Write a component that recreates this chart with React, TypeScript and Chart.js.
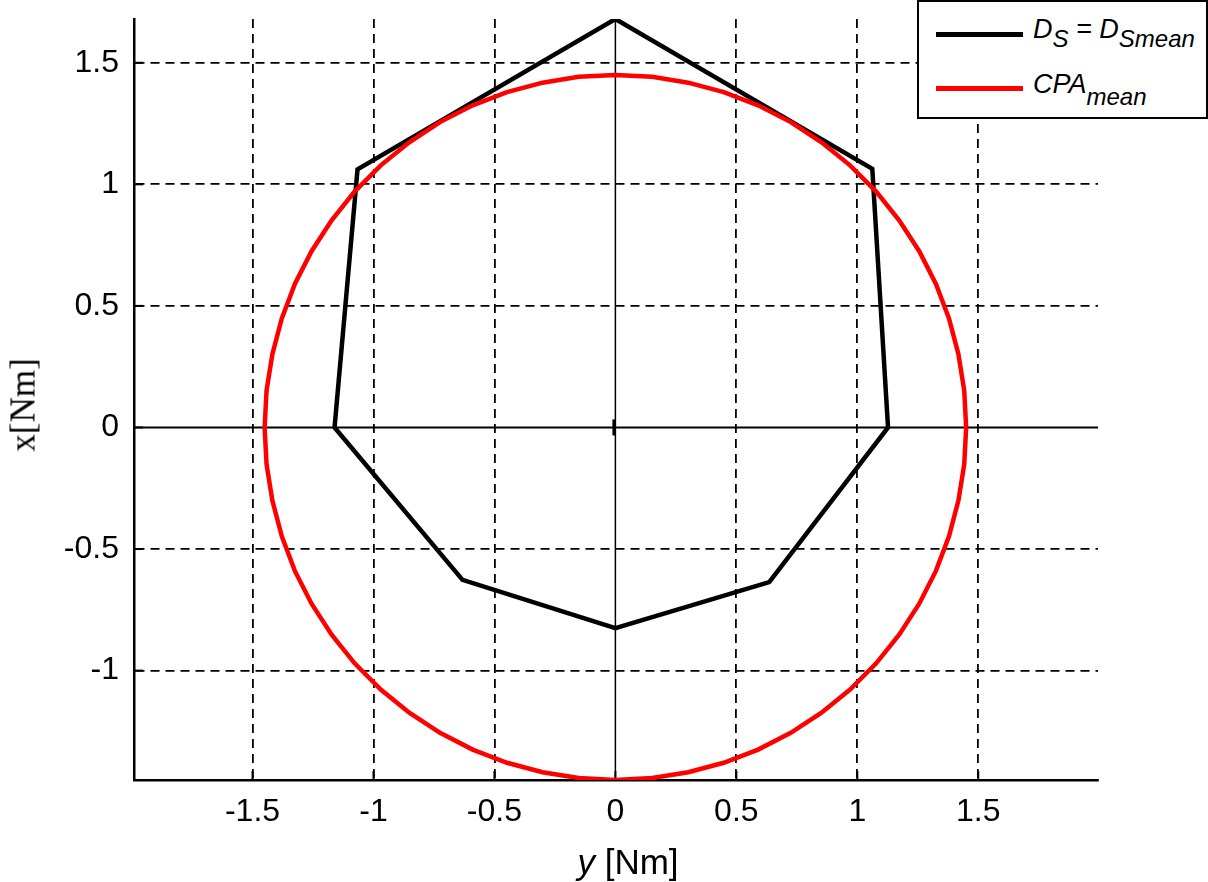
import { useEffect, useRef } from "react";
import { Chart, registerables } from "chart.js";

Chart.register(...registerables);

// D_S = D_Smean polygon (horizontal = y [Nm], vertical = x [Nm])
const polyY = [0, 1.062, 1.127, 0.636, 0, -0.632, -1.161, -1.066, 0];
const polyX = [1.68, 1.064, 0, -0.636, -0.825, -0.627, 0, 1.062, 1.68];

// CPA_mean contour, read round the curve every 6 degrees
const cpaY = [
  1.450, 1.442, 1.418, 1.379, 1.325, 1.256, 1.173, 1.078, 0.970, 0.852, 0.725, 0.590, 0.448, 0.301, 0.152, 0,
  -0.152, -0.301, -0.448, -0.590, -0.725, -0.852, -0.970, -1.078, -1.173, -1.256, -1.325, -1.379, -1.418, -1.442, -1.450,
  -1.442, -1.418, -1.379, -1.325, -1.256, -1.173, -1.078, -0.970, -0.852, -0.725, -0.590, -0.448, -0.301, -0.152, 0,
  0.152, 0.301, 0.448, 0.590, 0.725, 0.852, 0.970, 1.078, 1.173, 1.256, 1.325, 1.379, 1.418, 1.442, 1.450,
];
const cpaX = [
  0, 0.152, 0.301, 0.448, 0.590, 0.725, 0.852, 0.970, 1.078, 1.173, 1.256, 1.325, 1.379, 1.418, 1.442, 1.450,
  1.442, 1.418, 1.379, 1.325, 1.256, 1.173, 1.078, 0.970, 0.852, 0.725, 0.590, 0.448, 0.301, 0.152, 0,
  -0.152, -0.301, -0.448, -0.590, -0.725, -0.852, -0.970, -1.078, -1.173, -1.256, -1.325, -1.379, -1.418, -1.442, -1.450,
  -1.442, -1.418, -1.379, -1.325, -1.256, -1.173, -1.078, -0.970, -0.852, -0.725, -0.590, -0.448, -0.301, -0.152, 0,
];

const yTicks = [-1.5, -1, -0.5, 0, 0.5, 1, 1.5];
const xTicks = [-1, -0.5, 0, 0.5, 1, 1.5];

const FONT = "'Liberation Sans', Arial, Helvetica, sans-serif";

// zero lines, inward tick marks and the origin mark
const axesPlugin = {
  id: "axesExtras",
  beforeDatasetsDraw(chart: any) {
    const { ctx, chartArea, scales } = chart;
    const sx = scales.x;
    const sy = scales.y;
    const x0 = sx.getPixelForValue(0);
    const y0 = sy.getPixelForValue(0);
    ctx.save();
    ctx.strokeStyle = "#000";
    ctx.setLineDash([]);
    ctx.lineWidth = 2;
    ctx.beginPath();
    ctx.moveTo(chartArea.left, y0);
    ctx.lineTo(chartArea.right, y0);
    ctx.stroke();
    ctx.lineWidth = 1.5;
    ctx.beginPath();
    ctx.moveTo(x0, chartArea.top);
    ctx.lineTo(x0, chartArea.bottom);
    ctx.stroke();
    ctx.lineWidth = 2;
    sx.ticks.forEach((t: any) => {
      const px = sx.getPixelForValue(t.value);
      ctx.beginPath();
      ctx.moveTo(px, chartArea.bottom);
      ctx.lineTo(px, chartArea.bottom - 9);
      ctx.stroke();
    });
    sy.ticks.forEach((t: any) => {
      const py = sy.getPixelForValue(t.value);
      ctx.beginPath();
      ctx.moveTo(chartArea.left, py);
      ctx.lineTo(chartArea.left + 9, py);
      ctx.stroke();
    });
    ctx.fillStyle = "#000";
    ctx.fillRect(x0 - 3, y0 - 8, 3.5, 16);
    ctx.restore();
  },
};

const App = () => {
  const canvasRef = useRef<HTMLCanvasElement | null>(null);

  useEffect(() => {
    let chart: Chart | null = null;
    if (canvasRef.current) {
      const ctx = canvasRef.current.getContext("2d");
      if (ctx) {
        chart = new Chart(ctx, {
          type: "scatter",
          data: {
            datasets: [
              {
                label: "CPA mean",
                data: cpaY.map((v, i) => ({ x: v, y: cpaX[i] })),
                showLine: true,
                borderColor: "#ff0000",
                borderWidth: 4.5,
                pointRadius: 0,
                tension: 0,
              },
              {
                label: "DS = DSmean",
                data: polyY.map((v, i) => ({ x: v, y: polyX[i] })),
                showLine: true,
                borderColor: "#000000",
                borderWidth: 4.5,
                pointRadius: 0,
                tension: 0,
                borderJoinStyle: "miter",
              },
            ],
          },
          options: {
            animation: false,
            responsive: true,
            maintainAspectRatio: false,
            layout: {
              padding: { top: 19, right: 110, left: 0, bottom: 0 },
            },
            plugins: {
              legend: { display: false },
              tooltip: { enabled: false },
            },
            scales: {
              x: {
                type: "linear",
                min: -1.99,
                max: 1.995,
                afterBuildTicks: (scale: any) => {
                  scale.ticks = yTicks.map((v) => ({ value: v }));
                },
                afterFit: (scale: any) => {
                  scale.height = 102;
                  scale.paddingLeft = 0;
                  scale.paddingRight = 0;
                },
                ticks: {
                  callback: (v: any) => String(v),
                  font: { family: FONT, size: 32 },
                  color: "#000",
                  padding: 13,
                  maxRotation: 0,
                },
                grid: {
                  drawTicks: false,
                  lineWidth: 1.8,
                  color: (c: any) => (c.tick && c.tick.value === 0 ? "rgba(0,0,0,0)" : "#000"),
                },
                border: { display: true, color: "#000", width: 2.5, dash: [9, 6] },
              },
              y: {
                type: "linear",
                min: -1.45,
                max: 1.68,
                afterBuildTicks: (scale: any) => {
                  scale.ticks = xTicks.map((v) => ({ value: v }));
                },
                afterFit: (scale: any) => {
                  scale.width = 134;
                  scale.paddingTop = 0;
                  scale.paddingBottom = 0;
                },
                ticks: {
                  callback: (v: any) => String(v),
                  font: { family: FONT, size: 32 },
                  color: "#000",
                  padding: 15,
                },
                grid: {
                  drawTicks: false,
                  lineWidth: 1.8,
                  color: (c: any) => (c.tick && c.tick.value === 0 ? "rgba(0,0,0,0)" : "#000"),
                },
                border: { display: true, color: "#000", width: 2.5, dash: [9, 6] },
              },
            },
          },
          plugins: [axesPlugin],
        });
      }
    }
    return () => {
      chart?.destroy();
    };
  }, []);

  return (
    <div style={{ position: "fixed", left: 0, top: 0, width: 1208, height: 882, background: "#fff" }}>
      <canvas ref={canvasRef} />
      {/* axis titles */}
      <div
        style={{
          position: "absolute",
          left: 23,
          top: 405,
          transform: "translate(-50%, -50%) rotate(-90deg)",
          fontFamily: "'Liberation Serif', 'Times New Roman', serif",
          fontSize: 35,
          whiteSpace: "nowrap",
          lineHeight: 1,
        }}
      >
        x[Nm]
      </div>
      <div
        style={{
          position: "absolute",
          left: 628,
          top: 861,
          transform: "translate(-50%, -50%)",
          fontFamily: FONT,
          fontSize: 35,
          whiteSpace: "nowrap",
          lineHeight: 1,
        }}
      >
        <i>y</i> [Nm]
      </div>
      {/* legend */}
      <div
        style={{
          position: "absolute",
          left: 917,
          top: 0,
          width: 287,
          height: 115,
          border: "2px solid #000",
          background: "#fff",
          fontFamily: FONT,
          fontStyle: "italic",
          fontSize: 27,
          lineHeight: 1,
        }}
      >
        <div style={{ position: "absolute", left: 17, top: 30, width: 87, height: 4.5, background: "#000" }} />
        <div style={{ position: "absolute", left: 114, top: 14, whiteSpace: "nowrap" }}>
          D<sub style={{ fontSize: 24, verticalAlign: -9 }}>S</sub> = D
          <sub style={{ fontSize: 24, verticalAlign: -9 }}>Smean</sub>
        </div>
        <div style={{ position: "absolute", left: 17, top: 84, width: 87, height: 4.5, background: "#ff0000" }} />
        <div style={{ position: "absolute", left: 114, top: 69, whiteSpace: "nowrap" }}>
          CPA<sub style={{ fontSize: 24, verticalAlign: -12 }}>mean</sub>
        </div>
      </div>
    </div>
  );
};

export default App;
